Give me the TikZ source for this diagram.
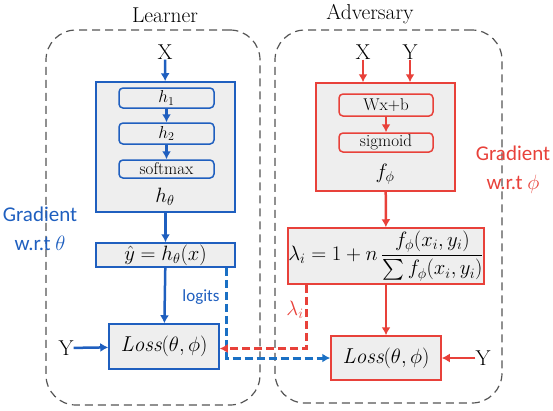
\documentclass[tikz,border=0pt]{standalone}
\usepackage{fontspec}
\usepackage{amsmath}
\newfontfamily\gradfont{Carlito}
\usetikzlibrary{arrows.meta}

\definecolor{lblue}{HTML}{1F5FBF}
\definecolor{dblue}{HTML}{1A70C4}
\definecolor{lred}{HTML}{E8413A}
\definecolor{boxgray}{HTML}{EEEEEE}
\definecolor{framegray}{HTML}{555555}

\begin{document}
\begin{tikzpicture}[%
					x=1pt, y=-1pt,
					every node/.style={%
						inner sep=0pt,
						font=\fontsize{21.5}{23}\selectfont
					},
					frame/.style={%
						draw=framegray, line width=1.2pt,
						dash pattern=on 8pt off 5pt,
						rounded corners=30pt
					},
					bigbox/.style={%
						draw=#1, fill=boxgray, line width=1.5pt
					},
					layer/.style={%
						draw=#1, line width=1.5pt, rounded corners=4pt,
						font=\fontsize{17}{19}\selectfont
					},
					flow/.style={%
						draw=#1, line width=2.5pt,
						-{Latex[length=8pt,width=9pt]}
					},
					back/.style={%
						draw=#1, line width=3pt,
						dash pattern=on 8pt off 4pt,
						-{Latex[length=8pt,width=9pt]}
					}
				]

				\useasboundingbox (0, 0) rectangle (553, 410);

				% frames and titles
				\node (learner) [frame, minimum width=214pt, minimum height=375pt] at (153, 217.5) {};
				\node (adversary) [frame, minimum width=227pt, minimum height=373pt] at (388.5, 216.5) {};
				\node (learnertitle) at (165, 15) {Learner};
				\node (adversarytitle) at (370, 14) {Adversary};

				% learner
				\node (xL) at (165, 52) {X};
				\node (hthetabox) [bigbox=lblue, minimum width=139pt, minimum height=130pt] at (165.5, 147) {};
				\node (hone) [layer=lblue, minimum width=95pt, minimum height=20pt] at (166.5, 98) {$h_1$};
				\node (htwo) [layer=lblue, minimum width=95pt, minimum height=21pt] at (166.5, 133.5) {$h_2$};
				\node (softmax) [layer=lblue, minimum width=95pt, minimum height=18pt] at (166.5, 169) {softmax};
				\node (htheta) at (165, 197) {$h_\theta$};
				\node (yhat) [bigbox=lblue, minimum width=139pt, minimum height=24pt] at (165.5, 255) {$\hat{y} = h_\theta(x)$};
				\node (lossL) [bigbox=lblue, minimum width=110pt, minimum height=45pt] at (164, 346.5) {$\mathit{Loss}(\theta, \phi)$};
				\node (yL) at (66, 348) {Y};
				\node (gradL) [align=center, text=lblue, font=\gradfont\fontsize{21}{29}\selectfont] at (40, 229) {Gradient\\w.r.t $\theta$};
				\node (logits) [text=lblue, font=\gradfont\fontsize{17}{19}\selectfont] at (201, 297) {logits};

				% adversary
				\node (xR) at (363, 52) {X};
				\node (yR) at (410, 52) {Y};
				\node (fphibox) [bigbox=lred, minimum width=139pt, minimum height=108pt] at (385.5, 137) {};
				\node (wxb) [layer=lred, minimum width=94pt, minimum height=22pt] at (386, 105) {Wx+b};
				\node (sigmoid) [layer=lred, minimum width=94pt, minimum height=19pt] at (386, 142.5) {sigmoid};
				\node (fphi) at (385, 174) {$f_\phi$};
				\node (lambda) [bigbox=lred, minimum width=196pt, minimum height=56pt] at (386, 256) {%
					$\lambda_i = 1 + n\,\dfrac{f_\phi(x_i, y_i)}{\textstyle\sum f_\phi(x_i, y_i)}$};
				\node (lossA) [bigbox=lred, minimum width=110pt, minimum height=44pt] at (386, 358) {$\mathit{Loss}(\theta, \phi)$};
				\node (yA) at (483, 358) {Y};
				\node (gradA) [align=center, text=lred, font=\gradfont\fontsize{21}{29}\selectfont] at (513, 170) {Gradient\\w.r.t $\phi$};
				\node (lambdalabel) [text=lred] at (295, 310) {$\lambda_i$};

				% connectors
				\draw [flow=lblue] (xL) -- (hthetabox);
				\draw [flow=lblue] (hone) -- (htwo);
				\draw [flow=lblue] (htwo) -- (softmax);
				\draw [flow=lblue] (hthetabox) -- (yhat);
				\draw [flow=lblue] (yhat) -- (lossL);
				\draw [flow=lblue] (yL) -- (lossL);
				\draw [flow=lred] (xR) -- (xR |- fphibox.north);
				\draw [flow=lred] (yR) -- (yR |- fphibox.north);
				\draw [flow=lred] (wxb) -- (sigmoid);
				\draw [flow=lred] (fphibox) -- (lambda);
				\draw [flow=lred] (lambda) -- (lossA);
				\draw [flow=lred] (yA) -- (lossA);
				\draw [back=dblue] ([xshift=-9pt]yhat.south east) |- (lossA.west);
				\draw [back=lred] ([xshift=19pt]lambda.south west) |- ([yshift=-2pt]lossL.east);
			\end{tikzpicture}
\end{document}
